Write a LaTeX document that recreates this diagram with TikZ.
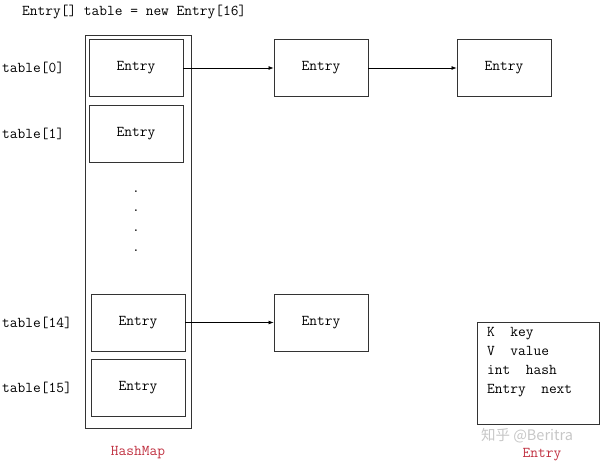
\documentclass[tikz,border=0pt]{standalone}
\usepackage{fontspec}
\newfontfamily\cjk{Noto Sans CJK SC}
\usetikzlibrary{arrows.meta}
\definecolor{mapred}{RGB}{192,48,64}

\begin{document}
\begin{tikzpicture}[x=1pt,y=-1pt,every node/.style={font=\ttfamily\fontsize{15}{19}\selectfont,inner sep=0pt},
	entrybox/.style={draw=black!80,line width=0.9pt,minimum width=94pt,minimum height=57pt},
	link/.style={line width=0.7pt,-{Latex[length=5pt,width=4pt]}}]
		\useasboundingbox (0,0) rectangle (600,466);
		% Title line
		\node[anchor=west] (title) at (22,12) {Entry[] table = new Entry[16]};
		% The HashMap array frame
		\node[draw=black!80,line width=0.9pt,minimum width=106pt,minimum height=393pt] (hashmap) at (138,231.5) {};
		\node[text=mapred] (hashmapname) at (138,453) {HashMap};
		%Notation: {node name, x, y, label}
		\foreach \name/\x/\y/\lab in {b0/136/68/0, b1/136/134/1, b14/138/322.5/14, b15/138/388/15}{
			\node[entrybox] (\name) at (\x,\y) {Entry};% Bucket entry
			\node[anchor=west] (lab\name) at (2,\y) {table[\lab]};% Bucket index
		}
		% The dots between table[1] and table[14]
		\foreach \i [count=\k] in {192,211,231,251}{
			\node (dot\k) at (136,\i) {.};
		}
		% Chained entries
		\node[entrybox] (e0a) at (321,68) {Entry};
		\node[entrybox] (e0b) at (504,68) {Entry};
		\node[entrybox] (e14a) at (321,322.5) {Entry};
		\draw[link] (b0) -- (e0a);
		\draw[link] (e0a) -- (e0b);
		\draw[link] (b14) -- (e14a);
		% The Entry fields
		\node[draw=black!80,line width=0.9pt,minimum width=122pt,minimum height=102pt] (entry) at (538,373) {};
		\node[anchor=north west,align=left] (fields) at (487,327) {K\ \ key\\V\ \ value\\int\ \ hash\\Entry\ \ next};
		\node[font=\cjk\fontsize{14.5}{16}\selectfont,text=black!22] (mark) at (527,436) {知乎 @Beritra};
		\node[text=mapred] (entryname) at (542,455) {Entry};
	\end{tikzpicture}
\end{document}
